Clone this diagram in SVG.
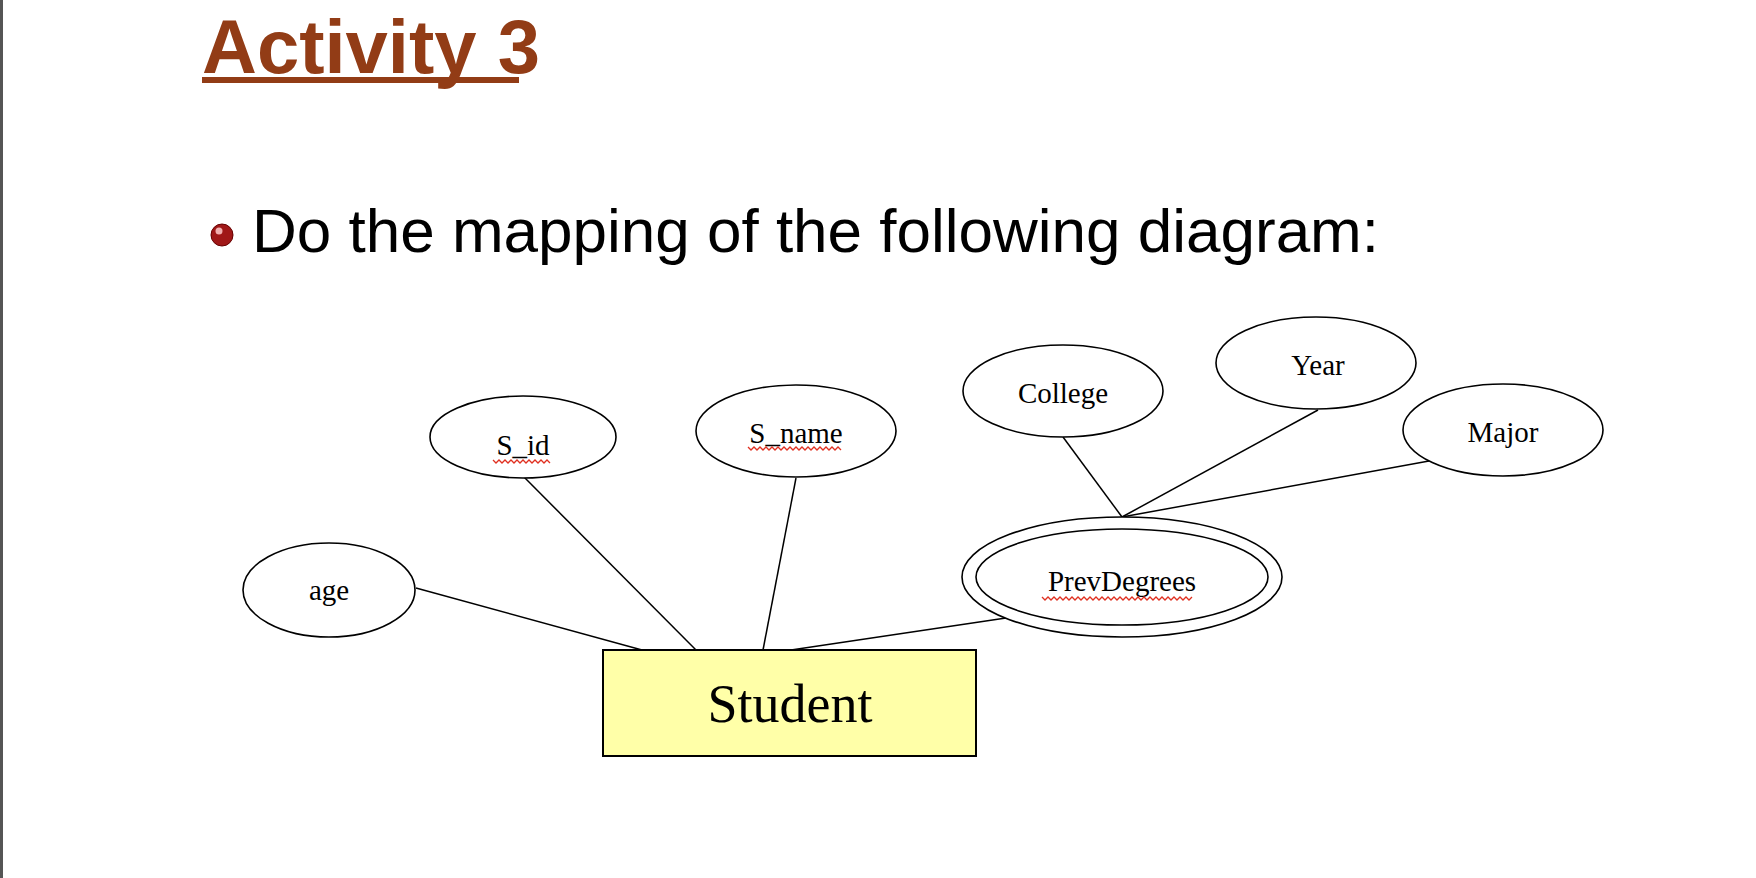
<svg xmlns="http://www.w3.org/2000/svg" width="1756" height="878" viewBox="0 0 1756 878">
<style>
.attr{fill:#fff;stroke:#000;stroke-width:1.6}
.lbl{font-family:"Liberation Serif",serif;font-size:29px;text-anchor:middle;fill:#000}
.wavy{fill:none;stroke:#e03020;stroke-width:1.3}
#connectors line{stroke:#000;stroke-width:1.5}
</style>
<rect width="1756" height="878" fill="#fff"/>
<rect x="0" y="0" width="3" height="878" fill="#555"/>
<g id="title">
<text x="202" y="73" font-family="Liberation Sans,Arial,sans-serif" font-weight="bold" font-size="76" fill="#923c16">Activity 3</text>
<rect x="202" y="77" width="317" height="6" fill="#923c16"/>
</g>
<g id="bullet">
<circle cx="222" cy="235" r="11" fill="#a01818" stroke="#600" stroke-width="1"/>
<circle cx="219" cy="231" r="3.5" fill="#f0b0b0"/>
<text x="252" y="252" font-family="Liberation Sans,Arial,sans-serif" font-size="62" fill="#000">Do the mapping of the following diagram:</text>
</g>
<g id="connectors">
<line x1="416" y1="588" x2="642" y2="650"/>
<line x1="523" y1="476" x2="696" y2="650"/>
<line x1="796" y1="478" x2="763" y2="650"/>
<line x1="1006" y1="618" x2="791" y2="650"/>
<line x1="1063" y1="437" x2="1122" y2="517"/>
<line x1="1318" y1="410" x2="1122" y2="517"/>
<line x1="1429" y1="461" x2="1122" y2="517"/>
</g>
<g id="student">
<rect x="603" y="650" width="373" height="106" fill="#ffffa8" stroke="#000" stroke-width="2"/>
<text x="790" y="722" font-family="Liberation Serif,serif" font-size="54" text-anchor="middle">Student</text>
</g>
<g id="age"><ellipse class="attr" cx="329" cy="590" rx="86" ry="47"/><text class="lbl" x="329" y="600">age</text></g>
<g id="sid"><ellipse class="attr" cx="523" cy="437" rx="93" ry="41"/><text class="lbl" x="523" y="455">S_id</text>
<path class="wavy" d="M493 460 l3 3 l3 -3 l3 3 l3 -3 l3 3 l3 -3 l3 3 l3 -3 l3 3 l3 -3 l3 3 l3 -3 l3 3 l3 -3 l3 3 l3 -3 l3 3 l3 -3 l3 3"/></g>
<g id="sname"><ellipse class="attr" cx="796" cy="431" rx="100" ry="46"/><text class="lbl" x="796" y="443">S_name</text>
<path class="wavy" d="M748 447 l3 3 l3 -3 l3 3 l3 -3 l3 3 l3 -3 l3 3 l3 -3 l3 3 l3 -3 l3 3 l3 -3 l3 3 l3 -3 l3 3 l3 -3 l3 3 l3 -3 l3 3 l3 -3 l3 3 l3 -3 l3 3 l3 -3 l3 3 l3 -3 l3 3 l3 -3 l3 3 l3 -3 l3 3"/></g>
<g id="college"><ellipse class="attr" cx="1063" cy="391" rx="100" ry="46"/><text class="lbl" x="1063" y="403">College</text></g>
<g id="year"><ellipse class="attr" cx="1316" cy="363" rx="100" ry="46"/><text class="lbl" x="1318" y="375">Year</text></g>
<g id="major"><ellipse class="attr" cx="1503" cy="430" rx="100" ry="46"/><text class="lbl" x="1503" y="442">Major</text></g>
<g id="prevdegrees">
<ellipse class="attr" cx="1122" cy="577" rx="160" ry="60"/>
<ellipse class="attr" cx="1122" cy="577" rx="146" ry="48"/>
<text class="lbl" x="1122" y="591">PrevDegrees</text>
<path class="wavy" d="M1042 597 l3 3 l3 -3 l3 3 l3 -3 l3 3 l3 -3 l3 3 l3 -3 l3 3 l3 -3 l3 3 l3 -3 l3 3 l3 -3 l3 3 l3 -3 l3 3 l3 -3 l3 3 l3 -3 l3 3 l3 -3 l3 3 l3 -3 l3 3 l3 -3 l3 3 l3 -3 l3 3 l3 -3 l3 3 l3 -3 l3 3 l3 -3 l3 3 l3 -3 l3 3 l3 -3 l3 3 l3 -3 l3 3 l3 -3 l3 3 l3 -3 l3 3 l3 -3 l3 3 l3 -3 l3 3 l3 -3"/>
</g>
</svg>
